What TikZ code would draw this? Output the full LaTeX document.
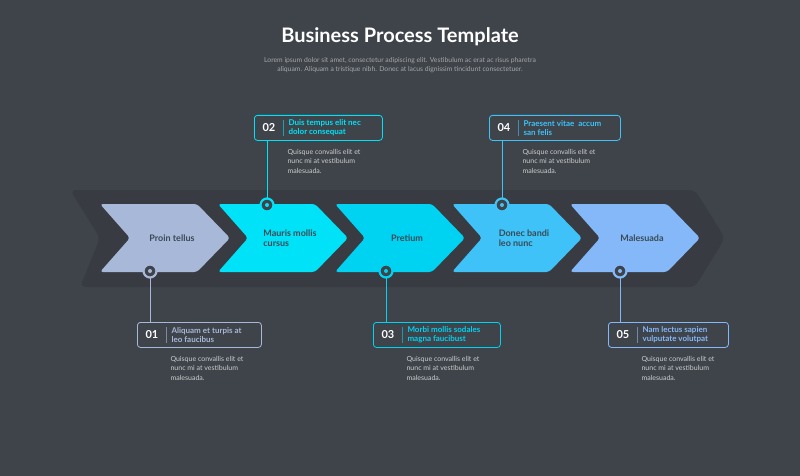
\documentclass[tikz,border=0pt]{standalone}
\usepackage{fontspec}
\setmainfont{Lato}
\begin{document}
\begin{tikzpicture}[x=1pt,y=-1pt,
 chev/.style={rounded corners=3pt},
 lbl/.style={font=\bfseries\fontsize{9}{9.5}\selectfont,align=center},
 tagbox/.style={draw,line width=0.8pt,rounded corners=3pt,minimum height=25,anchor=north west},
 body/.style={font=\fontsize{7}{9.5}\selectfont,text=white!80!black,align=left,anchor=north west},
 dot/.style={circle,draw,line width=2.2pt,fill=bg,minimum size=13pt,inner sep=0}]
\definecolor{bg}{HTML}{3F444B}
\definecolor{band}{HTML}{383C42}
\definecolor{txt}{HTML}{3A4A55}
\definecolor{c1}{HTML}{A8B8D8}
\definecolor{c2}{HTML}{00E2F8}
\definecolor{c3}{HTML}{00D2F2}
\definecolor{c4}{HTML}{3EC2F8}
\definecolor{c5}{HTML}{84B8F8}
\fill[bg] (0,0) rectangle (800,476);
\useasboundingbox (0,0) rectangle (800,476);
\node[font=\bfseries\fontsize{20}{22}\selectfont,text=white] (title) at (400,37) {Business Process Template};
\node[font=\fontsize{6.8}{9.5}\selectfont,text=white!65!black,align=center] (sub) at (400,65) {Lorem ipsum dolor sit amet, consectetur adipiscing elit. Vestibulum ac erat ac risus pharetra\\aliquam. Aliquam a tristique nibh. Donec at lacus dignissim tincidunt consectetuer.};
% band
\fill[band,rounded corners=6pt] (70,190) -- (695,190) -- (725,238) -- (695,287) -- (80,287) -- (100,238) -- cycle;
% chevrons
\foreach \x/\c/\n in {100/c1/1,218/c2/2,335/c3/3,452/c4/4,570/c5/5}{
 \fill[\c,chev] (\x,204) -- (\x+97,204) -- (\x+130,238) -- (\x+97,272) -- (\x,272) -- (\x+30,238) -- cycle;
 \coordinate (ch\n) at (\x+72,238);
}
\node[lbl,text=txt] (t1) at (ch1) {Proin tellus};
\node[lbl,text=txt,align=left] (t2) at (ch2) {Mauris mollis\\cursus};
\node[lbl,text=txt] (t3) at (ch3) {Pretium};
\node[lbl,text=txt,align=left] (t4) at (ch4) {Donec bandi\\leo nunc};
\node[lbl,text=txt] (t5) at (ch5) {Malesuada};
% tags
\newcommand{\tagitem}[7]{%
 \node[tagbox,draw=#3,minimum width=#4] (b#1) at (#5,#6) {};
 \node[font=\bfseries\fontsize{11}{12}\selectfont,text=white,anchor=west] (n#1) at ([xshift=5]b#1.west) {0#1};
 \draw[#3!60!bg,line width=0.6pt] ([xshift=29,yshift=-5]b#1.north west) -- ([xshift=29,yshift=5]b#1.south west);
 \node[font=\bfseries\fontsize{8}{9}\selectfont,text=#3,align=left,anchor=west] (h#1) at ([xshift=31]b#1.west) {#2};
 \node[body] (p#1) at ([xshift=30,yshift=-5]b#1.south west) {Quisque convallis elit et\\nunc mi at vestibulum\\malesuada.};
 \draw[#3,line width=0.9pt] (d#1.center) -- (b#1.#7 -| d#1);
 \node[dot,draw=#3] at (d#1) {};
 \fill[#3] (d#1) circle (2);
}
\coordinate (d1) at (150,271);
\coordinate (d2) at (267,205);
\coordinate (d3) at (386,271);
\coordinate (d4) at (502,205);
\coordinate (d5) at (620,271);
\tagitem{1}{Aliquam et turpis at\\leo faucibus}{c1}{124}{137}{322}{north}
\tagitem{2}{Duis tempus elit nec\\dolor consequat}{c2}{128}{254}{115}{south}
\tagitem{3}{Morbi mollis sodales\\magna faucibust}{c3}{127}{373}{322}{north}
\tagitem{4}{Praesent vitae \ accum\\san felis}{c4}{131}{489}{115}{south}
\tagitem{5}{Nam lectus sapien\\vulputate volutpat}{c5}{120}{608}{322}{north}
\end{tikzpicture}
\end{document}
